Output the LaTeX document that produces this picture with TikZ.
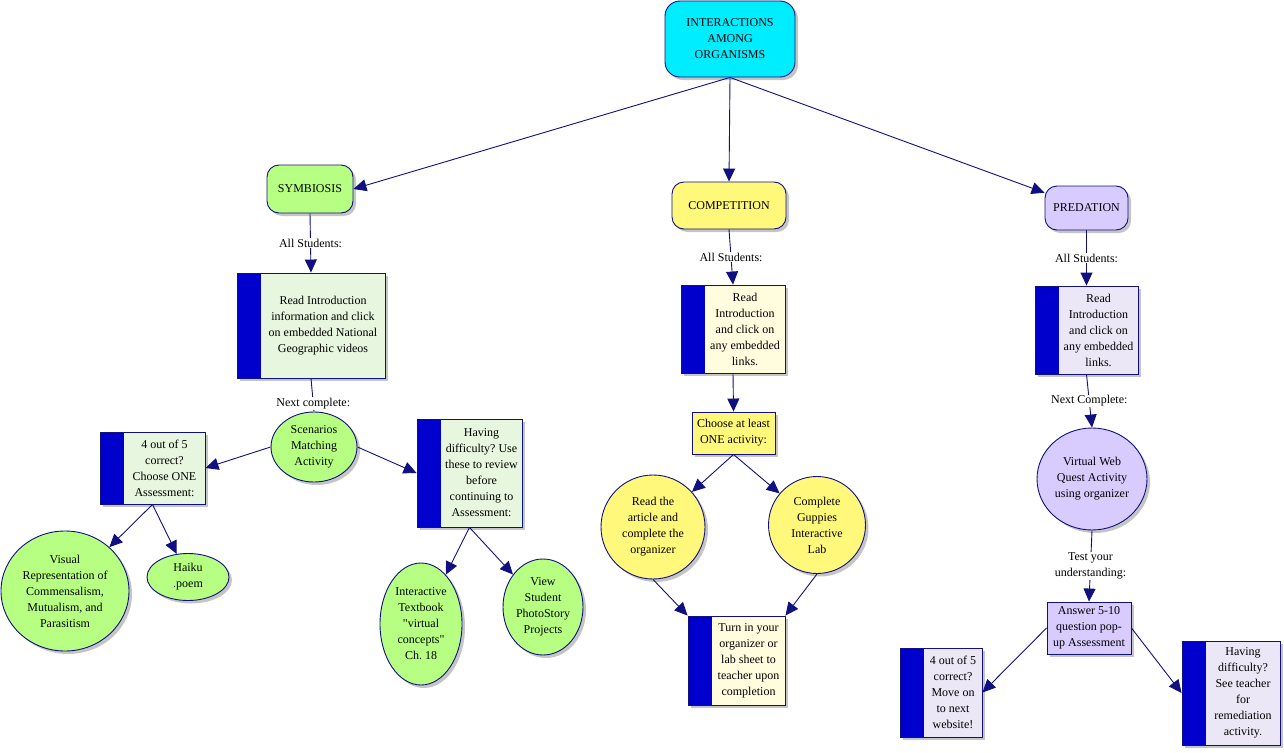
\documentclass[tikz,border=0pt]{standalone}
\usepackage{fontspec}
\setmainfont{Liberation Serif}[Ligatures=TeXOff]
\usetikzlibrary{arrows.meta,shapes.geometric,shadows}
\definecolor{cyanF}{RGB}{0,236,255}
\definecolor{greenF}{RGB}{183,255,130}
\definecolor{greenP}{RGB}{231,246,222}
\definecolor{yellowF}{RGB}{255,248,122}
\definecolor{yellowP}{RGB}{255,253,222}
\definecolor{lavF}{RGB}{216,204,255}
\definecolor{lavP}{RGB}{235,231,247}
\definecolor{navy}{RGB}{16,16,128}
\definecolor{stripB}{RGB}{0,0,205}
\newcommand{\sbt}[2]{\hspace*{24pt}\parbox{#1}{\centering #2}}
\frenchspacing
\begin{document}
\begin{tikzpicture}[x=1pt,y=-1pt,
  txt/.style={font=\fontsize{12}{16}\selectfont},
  base/.style={txt, draw=navy, line width=0.9pt, align=center, inner sep=0pt,
    drop shadow={shadow xshift=3pt,shadow yshift=-3pt,fill=black!45}},
  rbox/.style={base, rectangle, rounded corners=12pt},
  plainbox/.style={base, rectangle},
  stripbox/.style={base, rectangle,
    path picture={\fill[stripB] (path picture bounding box.north west) rectangle ([xshift=24pt]path picture bounding box.south west);}},
  oval/.style={base, ellipse},
  lbl/.style={txt, fill=white, inner sep=1pt, align=center},
  link/.style={draw=navy, line width=0.9pt},
  arr/.style={link, -{Triangle[length=13pt,width=12pt]}}
]
\useasboundingbox (0,0) rectangle (1284,752);

% top
\node[rbox, rounded corners=15pt, fill=cyanF, minimum width=130pt, minimum height=76pt] (top) at (730,39) {INTERACTIONS\\AMONG\\ORGANISMS};

% three branches
\node[rbox, fill=greenF, minimum width=86pt, minimum height=48pt] (sym) at (310,189) {SYMBIOSIS};
\node[rbox, fill=yellowF, minimum width=114pt, minimum height=47pt] (comp) at (729,205.5) {COMPETITION};
\node[rbox, fill=lavF, minimum width=83pt, minimum height=44pt] (pred) at (1086.5,208) {PREDATION};

% symbiosis branch
\node[stripbox, fill=greenP, minimum width=148pt, minimum height=105pt] (box1) at (311,325.5)
  {\sbt{120pt}{Read Introduction\\information and click\\on embedded National\\Geographic videos}};
\node[oval, fill=greenF, minimum width=86pt, minimum height=70pt] (scen) at (314,447) {Scenarios\\Matching\\Activity};
\node[stripbox, fill=greenP, minimum width=105pt, minimum height=72pt] (b45) at (152.5,468)
  {\sbt{77pt}{4 out of 5\\correct?\\Choose ONE\\Assessment:}};
\node[stripbox, fill=greenP, minimum width=105pt, minimum height=108pt] (having) at (469.5,473)
  {\sbt{77pt}{Having\\difficulty? Use\\these to review\\before\\continuing to\\Assessment:}};
\node[oval, fill=greenF, minimum width=128pt, minimum height=120pt] (vis) at (65,591)
  {Visual\\Representation of\\Commensalism,\\Mutualism, and\\Parasitism};
\node[oval, fill=greenF, minimum width=82pt, minimum height=47pt] (haiku) at (188,577) {Haiku\\.poem};
\node[oval, fill=greenF, minimum width=82pt, minimum height=122pt] (itb) at (421,624)
  {Interactive\\Textbook\\"virtual\\concepts"\\Ch. 18};
\node[oval, fill=greenF, minimum width=80pt, minimum height=96pt] (vsp) at (543,607)
  {View\\Student\\PhotoStory\\Projects};

% competition branch
\node[stripbox, fill=yellowP, minimum width=104pt, minimum height=88pt] (cbox) at (733,329)
  {\sbt{76pt}{Read\\Introduction\\and click on\\any embedded\\links.}};
\node[plainbox, fill=yellowF, minimum width=83pt, minimum height=42pt] (choose) at (733.5,433)
  {Choose at least\\ONE activity:};
\node[oval, fill=yellowF, minimum width=104pt, minimum height=104pt] (c1) at (653,527)
  {Read the\\article and\\complete the\\organizer};
\node[oval, fill=yellowF, minimum width=97pt, minimum height=97pt] (c2) at (817,525)
  {Complete\\Guppies\\Interactive\\Lab};
\node[stripbox, fill=yellowP, minimum width=97pt, minimum height=89pt] (turn) at (736.5,660.5)
  {\sbt{69pt}{Turn in your\\organizer or\\lab sheet to\\teacher upon\\completion}};

% predation branch
\node[stripbox, fill=lavP, minimum width=103pt, minimum height=88pt] (pbox) at (1086.5,330)
  {\sbt{75pt}{Read\\Introduction\\and click on\\any embedded\\links.}};
\node[oval, fill=lavF, minimum width=110pt, minimum height=102pt] (web) at (1092,479)
  {Virtual Web\\Quest Activity\\using organizer};
\node[plainbox, fill=lavF, minimum width=84pt, minimum height=52pt] (answer) at (1089,628)
  {Answer 5-10\\question pop-\\up Assessment};
\node[stripbox, fill=lavP, minimum width=82pt, minimum height=89pt] (b4) at (941,692.5)
  {\sbt{54pt}{4 out of 5\\correct?\\Move on\\to next\\website!}};
\node[stripbox, fill=lavP, minimum width=98pt, minimum height=104pt] (hd) at (1231,693)
  {\sbt{70pt}{Having\\difficulty?\\See teacher\\for\\remediation\\activity.}};

% connectors from top
\draw[arr] (top.south) -- (sym.east);
\draw[arr] (top.south) -- (comp.north);
\draw[arr] (top.south) -- (pred);

% symbiosis connectors
\draw[arr] (sym.south) -- node[lbl] (l1) {All Students:} (box1.north);
\draw[link] (box1.south) -- node[lbl, pos=0.75] (l2) {Next complete:} (scen.north);
\draw[arr] (scen.west) -- (b45.east);
\draw[arr] (scen.east) -- (having.west);
\draw[arr] (b45.south) -- (vis);
\draw[arr] (b45.south) -- (haiku);
\draw[arr] (having.south) -- (itb);
\draw[arr] (having.south) -- (vsp);

% competition connectors
\draw[arr] (comp.south) -- node[lbl] (l3) {All Students:} (cbox.north);
\draw[arr] (cbox.south) -- (choose.north);
\draw[arr] (choose.south) -- (c1);
\draw[arr] (choose.south) -- (c2);
\draw[arr] (c1.south) -- (turn.north west);
\draw[arr] (c2.south) -- (turn.north east);

% predation connectors
\draw[arr] (pred.south) -- node[lbl] (l4) {All Students:} (pbox.north);
\draw[arr] (pbox.south) -- node[lbl] (l5) {Next Complete:} (web.north);
\draw[arr] (web.south) -- node[lbl] (l6) {Test your\\understanding:} (answer.north);
\draw[arr] (answer.west) -- (b4.east);
\draw[arr] (answer.east) -- (hd.west);
\end{tikzpicture}
\end{document}
